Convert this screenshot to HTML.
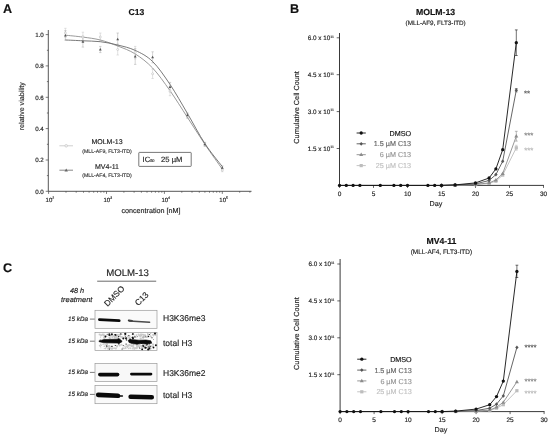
<!DOCTYPE html>
<html><head><meta charset="utf-8"><title>Figure</title>
<style>
html,body{margin:0;padding:0;background:#fff;}
body{width:550px;height:436px;overflow:hidden;}
svg{display:block;font-family:"Liberation Sans",sans-serif;text-rendering:geometricPrecision;}
text{stroke-width:0.15px;stroke-linejoin:round}
.b{font-weight:bold}
.i{font-style:italic}
.m{text-anchor:middle}
.e{text-anchor:end}
</style></head><body>
<svg width="550" height="436" viewBox="0 0 550 436">
<rect width="550" height="436" fill="#fff"/>

<g id="panelA">
<text x="3.0" y="12.8" font-size="12.6" class="b" fill="#111" stroke="#111" >A</text>
<text x="136.5" y="15.2" font-size="8.6" class="b m" fill="#111" stroke="#111" >C13</text>
<path d="M48.3 30V191.3H251.5" fill="none" stroke="#444" stroke-width="0.9"/>
<text x="43.8" y="193.5" font-size="6.2" class="e" fill="#222" stroke="#222" >0.0</text>
<text x="43.8" y="162.2" font-size="6.2" class="e" fill="#222" stroke="#222" >0.2</text>
<text x="43.8" y="130.8" font-size="6.2" class="e" fill="#222" stroke="#222" >0.4</text>
<text x="43.8" y="99.5" font-size="6.2" class="e" fill="#222" stroke="#222" >0.6</text>
<text x="43.8" y="68.1" font-size="6.2" class="e" fill="#222" stroke="#222" >0.8</text>
<text x="43.8" y="36.8" font-size="6.2" class="e" fill="#222" stroke="#222" >1.0</text>
<text x="45.6" y="201.9" font-size="6" fill="#222" stroke="#222">10<tspan dy="-2.5" font-size="3.5">2</tspan></text>
<text x="103.5" y="201.9" font-size="6" fill="#222" stroke="#222">10<tspan dy="-2.5" font-size="3.5">3</tspan></text>
<text x="161.4" y="201.9" font-size="6" fill="#222" stroke="#222">10<tspan dy="-2.5" font-size="3.5">4</tspan></text>
<text x="219.3" y="201.9" font-size="6" fill="#222" stroke="#222">10<tspan dy="-2.5" font-size="3.5">5</tspan></text>
<path d="M45.7 191.3H48.3M45.7 160.0H48.3M45.7 128.6H48.3M45.7 97.3H48.3M45.7 65.9H48.3M45.7 34.6H48.3M46.9 175.6H48.3M46.9 144.3H48.3M46.9 113.0H48.3M46.9 81.6H48.3M46.9 50.3H48.3M48.6 191.3v2.6M66.0 191.3v1.4M76.2 191.3v1.4M83.5 191.3v1.4M89.1 191.3v1.4M93.7 191.3v1.4M97.5 191.3v1.4M100.9 191.3v1.4M103.9 191.3v1.4M106.5 191.3v2.6M123.9 191.3v1.4M134.1 191.3v1.4M141.4 191.3v1.4M147.0 191.3v1.4M151.6 191.3v1.4M155.4 191.3v1.4M158.8 191.3v1.4M161.8 191.3v1.4M164.4 191.3v2.6M181.8 191.3v1.4M192.0 191.3v1.4M199.3 191.3v1.4M204.9 191.3v1.4M209.5 191.3v1.4M213.3 191.3v1.4M216.7 191.3v1.4M219.7 191.3v1.4M222.3 191.3v2.6M239.7 191.3v1.4M249.9 191.3v1.4" fill="none" stroke="#444" stroke-width="0.7"/>
<text x="151.0" y="213.2" font-size="7.2" class="m" fill="#222" stroke="#222" >concentration [nM]</text>
<text transform="translate(24,106.2) rotate(-90)" font-size="7.1" class="m" fill="#222" stroke="#222">relative viability</text>
<path d="M65.4 28.3V37.7M64.2 28.3h2.4M64.2 37.7h2.4M82.9 32.2V41.7M81.7 32.2h2.4M81.7 41.7h2.4M100.3 33.0V40.9M99.1 33.0h2.4M99.1 40.9h2.4M117.7 44.0V55.0M116.5 44.0h2.4M116.5 55.0h2.4M135.2 46.4V58.9M134.0 46.4h2.4M134.0 58.9h2.4M152.6 69.1V78.5M151.4 69.1h2.4M151.4 78.5h2.4M170.0 86.3V95.7M168.8 86.3h2.4M168.8 95.7h2.4M187.4 113.7V118.4M186.2 113.7h2.4M186.2 118.4h2.4M204.9 142.4V146.2M203.7 142.4h2.4M203.7 146.2h2.4M222.3 168.6V171.7M221.1 168.6h2.4M221.1 171.7h2.4" fill="none" stroke="#c4c4c4" stroke-width="0.5"/>
<path d="M65.4 30.7V40.1M64.2 30.7h2.4M64.2 40.1h2.4M82.9 36.2V47.1M81.7 36.2h2.4M81.7 47.1h2.4M100.3 46.4V52.6M99.1 46.4h2.4M99.1 52.6h2.4M117.7 33.0V45.6M116.5 33.0h2.4M116.5 45.6h2.4M135.2 48.7V64.4M134.0 48.7h2.4M134.0 64.4h2.4M152.6 51.8V62.8M151.4 51.8h2.4M151.4 62.8h2.4M170.0 82.4V91.8M168.8 82.4h2.4M168.8 91.8h2.4M187.4 113.0V117.7M186.2 113.0h2.4M186.2 117.7h2.4M204.9 142.4V146.2M203.7 142.4h2.4M203.7 146.2h2.4M222.3 165.9V169.7M221.1 165.9h2.4M221.1 169.7h2.4" fill="none" stroke="#a8a8a8" stroke-width="0.5"/>
<path d="M65.4 35.2C68.3 35.5 77.1 36.3 82.9 37.1C88.7 37.9 94.5 38.5 100.3 40.0C106.1 41.5 111.9 43.7 117.7 46.0C123.5 48.3 129.3 50.2 135.2 53.9C141.0 57.6 146.8 61.9 152.6 68.0C158.4 74.1 164.2 82.5 170.0 90.7C175.8 98.9 181.6 108.4 187.4 117.3C193.2 126.2 199.1 135.7 204.9 144.3C210.7 153.0 219.4 165.0 222.3 169.2" fill="none" stroke="#8e8e8e" stroke-width="0.9"/>
<path d="M65.4 40.0C68.3 40.1 77.1 40.5 82.9 40.8C88.7 41.1 94.5 41.0 100.3 41.7C106.1 42.4 111.9 43.5 117.7 45.0C123.5 46.5 129.3 47.6 135.2 50.4C141.0 53.1 146.8 55.8 152.6 61.5C158.4 67.2 164.2 75.8 170.0 84.4C175.8 93.1 181.6 103.5 187.4 113.4C193.2 123.3 199.1 134.7 204.9 143.6C210.7 152.5 219.4 162.8 222.3 166.6" fill="none" stroke="#6a6a6a" stroke-width="0.9"/>
<circle cx="65.4" cy="33.0" r="1" fill="#fff" stroke="#bdbdbd" stroke-width="0.6"/>
<circle cx="82.9" cy="37.0" r="1" fill="#fff" stroke="#bdbdbd" stroke-width="0.6"/>
<circle cx="100.3" cy="37.0" r="1" fill="#fff" stroke="#bdbdbd" stroke-width="0.6"/>
<circle cx="117.7" cy="49.5" r="1" fill="#fff" stroke="#bdbdbd" stroke-width="0.6"/>
<circle cx="135.2" cy="52.6" r="1" fill="#fff" stroke="#bdbdbd" stroke-width="0.6"/>
<circle cx="152.6" cy="73.8" r="1" fill="#fff" stroke="#bdbdbd" stroke-width="0.6"/>
<circle cx="170.0" cy="91.0" r="1" fill="#fff" stroke="#bdbdbd" stroke-width="0.6"/>
<circle cx="187.4" cy="116.1" r="1" fill="#fff" stroke="#bdbdbd" stroke-width="0.6"/>
<circle cx="204.9" cy="144.3" r="1" fill="#fff" stroke="#bdbdbd" stroke-width="0.6"/>
<circle cx="222.3" cy="170.1" r="1" fill="#fff" stroke="#bdbdbd" stroke-width="0.6"/>
<path d="M65.4 33.9l1.4 2.5h-2.8z" fill="#555"/>
<path d="M82.9 40.2l1.4 2.5h-2.8z" fill="#555"/>
<path d="M100.3 48.0l1.4 2.5h-2.8z" fill="#555"/>
<path d="M117.7 37.8l1.4 2.5h-2.8z" fill="#555"/>
<path d="M135.2 55.0l1.4 2.5h-2.8z" fill="#555"/>
<path d="M152.6 55.8l1.4 2.5h-2.8z" fill="#555"/>
<path d="M170.0 85.6l1.4 2.5h-2.8z" fill="#555"/>
<path d="M187.4 113.8l1.4 2.5h-2.8z" fill="#555"/>
<path d="M204.9 142.8l1.4 2.5h-2.8z" fill="#555"/>
<path d="M222.3 166.3l1.4 2.5h-2.8z" fill="#555"/>
<path d="M59.4 145.8H73" stroke="#c9c9c9" stroke-width="0.9"/><circle cx="66.2" cy="145.8" r="1.3" fill="#f4f4f4" stroke="#c4c4c4" stroke-width="0.7"/>
<path d="M59.4 170.2H73" stroke="#7a7a7a" stroke-width="0.9"/><path d="M66.2 168.4l1.7 3h-3.4z" fill="#666"/>
<text x="107.0" y="144.2" font-size="7.0" class="m" fill="#222" stroke="#222" >MOLM-13</text>
<text x="107.0" y="152.6" font-size="5.2" class="m" fill="#333" stroke="#333" >(MLL-AF9, FLT3-ITD)</text>
<text x="107.0" y="168.6" font-size="7.0" class="m" fill="#222" stroke="#222" >MV4-11</text>
<text x="107.0" y="177.0" font-size="5.2" class="m" fill="#333" stroke="#333" >(MLL-AF4, FLT3-ITD)</text>
<rect x="138.8" y="152.4" width="52.4" height="14" rx="0.6" fill="#fff" stroke="#555" stroke-width="0.8"/>
<text x="142.6" y="161.9" font-size="7.6" fill="#222" stroke="#222">IC<tspan font-size="3.9" dy="0.2">50</tspan><tspan dy="-0.2" dx="6.6">25 µM</tspan></text>
</g>
<text x="290.1" y="12.5" font-size="12.6" class="b" fill="#111" stroke="#111" >B</text>
<g id="panelB1">
<text x="435.6" y="15.0" font-size="8.7" class="b m" fill="#111" stroke="#111" >MOLM-13</text>
<text x="435.6" y="24.6" font-size="6.3" class="m" fill="#222" stroke="#222" >(MLL-AF9, FLT3-ITD)</text>
<path d="M339.5 33V185.4H543.9" fill="none" stroke="#222" stroke-width="0.9"/>
<text x="333.9" y="150.7" font-size="6.35" class="e" fill="#222" stroke="#222">1.5 x 10<tspan dy="-2.4" font-size="3.4">11</tspan></text>
<text x="333.9" y="113.8" font-size="6.35" class="e" fill="#222" stroke="#222">3.0 x 10<tspan dy="-2.4" font-size="3.4">11</tspan></text>
<text x="333.9" y="76.9" font-size="6.35" class="e" fill="#222" stroke="#222">4.5 x 10<tspan dy="-2.4" font-size="3.4">11</tspan></text>
<text x="333.9" y="40.0" font-size="6.35" class="e" fill="#222" stroke="#222">6.0 x 10<tspan dy="-2.4" font-size="3.4">11</tspan></text>
<text x="339.5" y="196.1" font-size="6.5" class="m" fill="#222" stroke="#222" >0</text>
<text x="373.5" y="196.1" font-size="6.5" class="m" fill="#222" stroke="#222" >5</text>
<text x="407.5" y="196.1" font-size="6.5" class="m" fill="#222" stroke="#222" >10</text>
<text x="441.5" y="196.1" font-size="6.5" class="m" fill="#222" stroke="#222" >15</text>
<text x="475.5" y="196.1" font-size="6.5" class="m" fill="#222" stroke="#222" >20</text>
<text x="509.5" y="196.1" font-size="6.5" class="m" fill="#222" stroke="#222" >25</text>
<text x="543.5" y="196.1" font-size="6.5" class="m" fill="#222" stroke="#222" >30</text>
<path d="M336.7 148.5H339.5M336.7 111.6H339.5M336.7 74.7H339.5M336.7 37.8H339.5M339.5 185.4v2.5M373.5 185.4v2.5M407.5 185.4v2.5M441.5 185.4v2.5M475.5 185.4v2.5M509.5 185.4v2.5M543.5 185.4v2.5" fill="none" stroke="#222" stroke-width="0.7"/>
<text x="436.0" y="206.0" font-size="7.2" class="m" fill="#222" stroke="#222" >Day</text>
<text transform="translate(298.5,107.4) rotate(-90)" font-size="7.3" class="m" fill="#222" stroke="#222">Cumulative Cell Count</text>
<path d="M516.3 145.3V150.2M514.9 145.3h2.8M514.9 150.2h2.8" fill="none" stroke="#bdbdbd" stroke-width="0.6"/>
<path d="M441.5 185.4 L455.1 185.2 L475.5 184.7 L489.1 183.4 L495.9 181.2 L502.7 175.1 L516.3 147.8" fill="none" stroke="#bdbdbd" stroke-width="0.9" stroke-linejoin="round"/>
<rect x="439.9" y="183.8" width="3.2" height="3.2" fill="#bdbdbd"/>
<rect x="453.5" y="183.6" width="3.2" height="3.2" fill="#bdbdbd"/>
<rect x="473.9" y="183.1" width="3.2" height="3.2" fill="#bdbdbd"/>
<rect x="487.5" y="181.8" width="3.2" height="3.2" fill="#bdbdbd"/>
<rect x="494.3" y="179.6" width="3.2" height="3.2" fill="#bdbdbd"/>
<rect x="501.1" y="173.5" width="3.2" height="3.2" fill="#bdbdbd"/>
<rect x="514.7" y="146.2" width="3.2" height="3.2" fill="#bdbdbd"/>
<path d="M516.3 131.3V141.1M514.9 131.3h2.8M514.9 141.1h2.8" fill="none" stroke="#8c8c8c" stroke-width="0.6"/>
<path d="M441.5 185.4 L455.1 185.2 L475.5 184.4 L489.1 182.9 L495.9 180.0 L502.7 173.6 L516.3 136.2" fill="none" stroke="#8c8c8c" stroke-width="0.9" stroke-linejoin="round"/>
<path d="M441.5 183.3l2 3.5h-4z" fill="#8c8c8c"/>
<path d="M455.1 183.1l2 3.5h-4z" fill="#8c8c8c"/>
<path d="M475.5 182.3l2 3.5h-4z" fill="#8c8c8c"/>
<path d="M489.1 180.8l2 3.5h-4z" fill="#8c8c8c"/>
<path d="M495.9 177.9l2 3.5h-4z" fill="#8c8c8c"/>
<path d="M502.7 171.5l2 3.5h-4z" fill="#8c8c8c"/>
<path d="M516.3 134.1l2 3.5h-4z" fill="#8c8c8c"/>
<path d="M516.3 88.5V91.9M514.9 88.5h2.8M514.9 91.9h2.8" fill="none" stroke="#555" stroke-width="0.6"/>
<path d="M441.5 185.4 L455.1 185.0 L475.5 183.9 L489.1 180.5 L495.9 174.6 L502.7 161.3 L516.3 90.2" fill="none" stroke="#555" stroke-width="0.9" stroke-linejoin="round"/>
<path d="M441.5 183.5l1.7 1.9l-1.7 1.9l-1.7-1.9z" fill="#555"/>
<path d="M455.1 183.1l1.7 1.9l-1.7 1.9l-1.7-1.9z" fill="#555"/>
<path d="M475.5 182.0l1.7 1.9l-1.7 1.9l-1.7-1.9z" fill="#555"/>
<path d="M489.1 178.6l1.7 1.9l-1.7 1.9l-1.7-1.9z" fill="#555"/>
<path d="M495.9 172.7l1.7 1.9l-1.7 1.9l-1.7-1.9z" fill="#555"/>
<path d="M502.7 159.4l1.7 1.9l-1.7 1.9l-1.7-1.9z" fill="#555"/>
<path d="M516.3 88.3l1.7 1.9l-1.7 1.9l-1.7-1.9z" fill="#555"/>
<path d="M516.3 29.9V55.5M514.9 29.9h2.8M514.9 55.5h2.8" fill="none" stroke="#111" stroke-width="0.6"/>
<path d="M339.5 185.4 L346.3 185.4 L353.1 185.4 L359.9 185.4 L380.3 185.4 L393.9 185.4 L400.7 185.4 L407.5 185.4 L427.9 185.4 L434.7 185.4 L441.5 185.4 L455.1 184.9 L475.5 182.9 L489.1 178.0 L495.9 168.9 L502.7 149.7 L516.3 42.7" fill="none" stroke="#111" stroke-width="0.9" stroke-linejoin="round"/>
<circle cx="339.5" cy="185.4" r="1.65" fill="#111"/>
<circle cx="346.3" cy="185.4" r="1.65" fill="#111"/>
<circle cx="353.1" cy="185.4" r="1.65" fill="#111"/>
<circle cx="359.9" cy="185.4" r="1.65" fill="#111"/>
<circle cx="380.3" cy="185.4" r="1.65" fill="#111"/>
<circle cx="393.9" cy="185.4" r="1.65" fill="#111"/>
<circle cx="400.7" cy="185.4" r="1.65" fill="#111"/>
<circle cx="407.5" cy="185.4" r="1.65" fill="#111"/>
<circle cx="427.9" cy="185.4" r="1.65" fill="#111"/>
<circle cx="434.7" cy="185.4" r="1.65" fill="#111"/>
<circle cx="441.5" cy="185.4" r="1.65" fill="#111"/>
<circle cx="455.1" cy="184.9" r="1.65" fill="#111"/>
<circle cx="475.5" cy="182.9" r="1.65" fill="#111"/>
<circle cx="489.1" cy="178.0" r="1.65" fill="#111"/>
<circle cx="495.9" cy="168.9" r="1.65" fill="#111"/>
<circle cx="502.7" cy="149.7" r="1.65" fill="#111"/>
<circle cx="516.3" cy="42.7" r="1.65" fill="#111"/>
<path d="M356.6 133.0h9.2" stroke="#111" stroke-width="0.9"/>
<circle cx="361.2" cy="133.0" r="1.65" fill="#111"/>
<text x="411.1" y="135.6" font-size="7.2" class="e" fill="#111" stroke="#111" >DMSO</text>
<path d="M356.6 143.8h9.2" stroke="#555" stroke-width="0.9"/>
<path d="M361.2 141.9l1.7 1.9l-1.7 1.9l-1.7-1.9z" fill="#555"/>
<text x="411.1" y="146.4" font-size="7.2" class="e" fill="#666" stroke="#666" >1.5 µM C13</text>
<path d="M356.6 154.7h9.2" stroke="#8c8c8c" stroke-width="0.9"/>
<path d="M361.2 152.6l2 3.5h-4z" fill="#8c8c8c"/>
<text x="411.1" y="157.3" font-size="7.2" class="e" fill="#959595" stroke="#959595" >6 µM C13</text>
<path d="M356.6 165.6h9.2" stroke="#bdbdbd" stroke-width="0.9"/>
<rect x="359.6" y="164.0" width="3.2" height="3.2" fill="#bdbdbd"/>
<text x="411.1" y="168.2" font-size="7.2" class="e" fill="#c2c2c2" stroke="#c2c2c2" >25 µM C13</text>
<text x="527.0" y="95.9" font-size="7.8" class="m" fill="#666" stroke="#666" >**</text>
<text x="528.8" y="137.7" font-size="7.8" class="m" fill="#8c8c8c" stroke="#8c8c8c" >***</text>
<text x="528.8" y="152.5" font-size="7.8" class="m" fill="#bdbdbd" stroke="#bdbdbd" >***</text>
</g>
<g id="panelB2">
<text x="441.4" y="244.4" font-size="8.7" class="b m" fill="#111" stroke="#111" >MV4-11</text>
<text x="441.4" y="253.8" font-size="6.45" class="m" fill="#222" stroke="#222" >(MLL-AF4, FLT3-ITD)</text>
<path d="M340.1 259V411.6H544.5" fill="none" stroke="#222" stroke-width="0.9"/>
<text x="334.5" y="376.9" font-size="6.35" class="e" fill="#222" stroke="#222">1.5 x 10<tspan dy="-2.4" font-size="3.4">11</tspan></text>
<text x="334.5" y="340.0" font-size="6.35" class="e" fill="#222" stroke="#222">3.0 x 10<tspan dy="-2.4" font-size="3.4">11</tspan></text>
<text x="334.5" y="303.1" font-size="6.35" class="e" fill="#222" stroke="#222">4.5 x 10<tspan dy="-2.4" font-size="3.4">11</tspan></text>
<text x="334.5" y="266.2" font-size="6.35" class="e" fill="#222" stroke="#222">6.0 x 10<tspan dy="-2.4" font-size="3.4">11</tspan></text>
<text x="340.1" y="422.3" font-size="6.5" class="m" fill="#222" stroke="#222" >0</text>
<text x="374.1" y="422.3" font-size="6.5" class="m" fill="#222" stroke="#222" >5</text>
<text x="408.1" y="422.3" font-size="6.5" class="m" fill="#222" stroke="#222" >10</text>
<text x="442.1" y="422.3" font-size="6.5" class="m" fill="#222" stroke="#222" >15</text>
<text x="476.1" y="422.3" font-size="6.5" class="m" fill="#222" stroke="#222" >20</text>
<text x="510.1" y="422.3" font-size="6.5" class="m" fill="#222" stroke="#222" >25</text>
<text x="544.1" y="422.3" font-size="6.5" class="m" fill="#222" stroke="#222" >30</text>
<path d="M337.3 374.7H340.1M337.3 337.8H340.1M337.3 300.9H340.1M337.3 264.0H340.1M340.1 411.6v2.5M374.1 411.6v2.5M408.1 411.6v2.5M442.1 411.6v2.5M476.1 411.6v2.5M510.1 411.6v2.5M544.1 411.6v2.5" fill="none" stroke="#222" stroke-width="0.7"/>
<text x="441.0" y="432.2" font-size="7.2" class="m" fill="#222" stroke="#222" >Day</text>
<text transform="translate(299.1,333.6) rotate(-90)" font-size="7.3" class="m" fill="#222" stroke="#222">Cumulative Cell Count</text>
<path d="M442.1 411.6 L455.7 411.5 L476.1 411.2 L489.7 410.6 L496.5 408.2 L503.3 404.7 L516.9 390.7" fill="none" stroke="#bdbdbd" stroke-width="0.9" stroke-linejoin="round"/>
<rect x="440.5" y="410.0" width="3.2" height="3.2" fill="#bdbdbd"/>
<rect x="454.1" y="409.9" width="3.2" height="3.2" fill="#bdbdbd"/>
<rect x="474.5" y="409.6" width="3.2" height="3.2" fill="#bdbdbd"/>
<rect x="488.1" y="409.0" width="3.2" height="3.2" fill="#bdbdbd"/>
<rect x="494.9" y="406.6" width="3.2" height="3.2" fill="#bdbdbd"/>
<rect x="501.7" y="403.1" width="3.2" height="3.2" fill="#bdbdbd"/>
<rect x="515.3" y="389.1" width="3.2" height="3.2" fill="#bdbdbd"/>
<path d="M442.1 411.6 L455.7 411.5 L476.1 411.1 L489.7 410.1 L496.5 407.2 L503.3 402.3 L516.9 381.8" fill="none" stroke="#8c8c8c" stroke-width="0.9" stroke-linejoin="round"/>
<path d="M442.1 409.5l2 3.5h-4z" fill="#8c8c8c"/>
<path d="M455.7 409.4l2 3.5h-4z" fill="#8c8c8c"/>
<path d="M476.1 409.0l2 3.5h-4z" fill="#8c8c8c"/>
<path d="M489.7 408.0l2 3.5h-4z" fill="#8c8c8c"/>
<path d="M496.5 405.1l2 3.5h-4z" fill="#8c8c8c"/>
<path d="M503.3 400.2l2 3.5h-4z" fill="#8c8c8c"/>
<path d="M516.9 379.7l2 3.5h-4z" fill="#8c8c8c"/>
<path d="M442.1 411.6 L455.7 411.4 L476.1 410.6 L489.7 408.2 L496.5 404.2 L503.3 395.9 L516.9 347.4" fill="none" stroke="#555" stroke-width="0.9" stroke-linejoin="round"/>
<path d="M442.1 409.7l1.7 1.9l-1.7 1.9l-1.7-1.9z" fill="#555"/>
<path d="M455.7 409.5l1.7 1.9l-1.7 1.9l-1.7-1.9z" fill="#555"/>
<path d="M476.1 408.7l1.7 1.9l-1.7 1.9l-1.7-1.9z" fill="#555"/>
<path d="M489.7 406.3l1.7 1.9l-1.7 1.9l-1.7-1.9z" fill="#555"/>
<path d="M496.5 402.3l1.7 1.9l-1.7 1.9l-1.7-1.9z" fill="#555"/>
<path d="M503.3 394.0l1.7 1.9l-1.7 1.9l-1.7-1.9z" fill="#555"/>
<path d="M516.9 345.5l1.7 1.9l-1.7 1.9l-1.7-1.9z" fill="#555"/>
<path d="M516.9 265.2V277.5M515.5 265.2h2.8M515.5 277.5h2.8" fill="none" stroke="#111" stroke-width="0.6"/>
<path d="M340.1 411.6 L346.9 411.6 L353.7 411.6 L360.5 411.6 L380.9 411.6 L394.5 411.6 L401.3 411.6 L408.1 411.6 L428.5 411.6 L435.3 411.6 L442.1 411.6 L455.7 411.1 L476.1 409.1 L489.7 404.7 L496.5 396.6 L503.3 381.1 L516.9 271.4" fill="none" stroke="#111" stroke-width="0.9" stroke-linejoin="round"/>
<circle cx="340.1" cy="411.6" r="1.65" fill="#111"/>
<circle cx="346.9" cy="411.6" r="1.65" fill="#111"/>
<circle cx="353.7" cy="411.6" r="1.65" fill="#111"/>
<circle cx="360.5" cy="411.6" r="1.65" fill="#111"/>
<circle cx="380.9" cy="411.6" r="1.65" fill="#111"/>
<circle cx="394.5" cy="411.6" r="1.65" fill="#111"/>
<circle cx="401.3" cy="411.6" r="1.65" fill="#111"/>
<circle cx="408.1" cy="411.6" r="1.65" fill="#111"/>
<circle cx="428.5" cy="411.6" r="1.65" fill="#111"/>
<circle cx="435.3" cy="411.6" r="1.65" fill="#111"/>
<circle cx="442.1" cy="411.6" r="1.65" fill="#111"/>
<circle cx="455.7" cy="411.1" r="1.65" fill="#111"/>
<circle cx="476.1" cy="409.1" r="1.65" fill="#111"/>
<circle cx="489.7" cy="404.7" r="1.65" fill="#111"/>
<circle cx="496.5" cy="396.6" r="1.65" fill="#111"/>
<circle cx="503.3" cy="381.1" r="1.65" fill="#111"/>
<circle cx="516.9" cy="271.4" r="1.65" fill="#111"/>
<path d="M357.2 359.2h9.2" stroke="#111" stroke-width="0.9"/>
<circle cx="361.8" cy="359.2" r="1.65" fill="#111"/>
<text x="411.7" y="361.8" font-size="7.2" class="e" fill="#111" stroke="#111" >DMSO</text>
<path d="M357.2 370.1h9.2" stroke="#555" stroke-width="0.9"/>
<path d="M361.8 368.2l1.7 1.9l-1.7 1.9l-1.7-1.9z" fill="#555"/>
<text x="411.7" y="372.7" font-size="7.2" class="e" fill="#666" stroke="#666" >1.5 µM C13</text>
<path d="M357.2 380.9h9.2" stroke="#8c8c8c" stroke-width="0.9"/>
<path d="M361.8 378.8l2 3.5h-4z" fill="#8c8c8c"/>
<text x="411.7" y="383.5" font-size="7.2" class="e" fill="#959595" stroke="#959595" >6 µM C13</text>
<path d="M357.2 391.8h9.2" stroke="#bdbdbd" stroke-width="0.9"/>
<rect x="360.2" y="390.2" width="3.2" height="3.2" fill="#bdbdbd"/>
<text x="411.7" y="394.4" font-size="7.2" class="e" fill="#c2c2c2" stroke="#c2c2c2" >25 µM C13</text>
<text x="530.6" y="350.1" font-size="7.8" class="m" fill="#666" stroke="#666" >****</text>
<text x="530.6" y="383.6" font-size="7.8" class="m" fill="#8c8c8c" stroke="#8c8c8c" >****</text>
<text x="530.6" y="395.6" font-size="7.8" class="m" fill="#bdbdbd" stroke="#bdbdbd" >****</text>
</g>
<g id="panelC">
<text x="2.9" y="272.1" font-size="12.6" class="b" fill="#111" stroke="#111" >C</text>
<text x="127.6" y="276.2" font-size="9.65" class="m" fill="#222" stroke="#222" >MOLM-13</text>
<path d="M97.2 281.2H156.2" stroke="#2a2a2a" stroke-width="0.7"/>
<text x="77.0" y="293.0" font-size="7.3" class="i m" fill="#222" stroke="#222" >48 h</text>
<text x="76.7" y="302.1" font-size="7.45" class="i m" fill="#222" stroke="#222" >treatment</text>
<text transform="translate(107.4,307) rotate(-45)" font-size="8.4" fill="#222" stroke="#222">DMSO</text>
<text transform="translate(138.2,306.2) rotate(-45)" font-size="8.4" fill="#222" stroke="#222">C13</text>
<rect x="95" y="310.3" width="62" height="18.0" fill="#fafafa" stroke="#939393" stroke-width="0.65"/>
<text x="88.0" y="321.0" font-size="6.3" class="i e" fill="#222" stroke="#222" >15 kDa</text>
<path d="M89.9 319.1H94.7" stroke="#444" stroke-width="0.7"/>
<text x="163.0" y="320.5" font-size="8.5" class="" fill="#222" stroke="#222" >H3K36me3</text>
<rect x="95" y="332.4" width="62" height="18.1" fill="#fdfdfd" stroke="#939393" stroke-width="0.65"/>
<text x="88.0" y="343.1" font-size="6.3" class="i e" fill="#222" stroke="#222" >15 kDa</text>
<path d="M89.9 341.2H94.7" stroke="#444" stroke-width="0.7"/>
<text x="163.0" y="345.7" font-size="8.5" class="" fill="#222" stroke="#222" >total H3</text>
<rect x="95" y="363.6" width="62" height="18.0" fill="#f8f8f8" stroke="#939393" stroke-width="0.65"/>
<text x="88.0" y="374.3" font-size="6.3" class="i e" fill="#222" stroke="#222" >15 kDa</text>
<path d="M89.9 372.4H94.7" stroke="#444" stroke-width="0.7"/>
<text x="163.0" y="375.5" font-size="8.5" class="" fill="#222" stroke="#222" >H3K36me2</text>
<rect x="95" y="385.6" width="62" height="18.1" fill="#fafafa" stroke="#939393" stroke-width="0.65"/>
<text x="88.0" y="396.3" font-size="6.3" class="i e" fill="#222" stroke="#222" >15 kDa</text>
<path d="M89.9 394.4H94.7" stroke="#444" stroke-width="0.7"/>
<text x="163.0" y="398.4" font-size="8.5" class="" fill="#222" stroke="#222" >total H3</text>
<path d="M99.4 319.6L119.2 320.6" stroke="#0a0a0a" stroke-width="2.8" stroke-linecap="round" opacity="1"/>
<path d="M128.8 320.4L132 321" stroke="#333" stroke-width="2" stroke-linecap="round"/>
<path d="M129.6 321L149.6 322.3" stroke="#4a4a4a" stroke-width="1.5" stroke-linecap="round" opacity="1"/>
<g fill="#959595" opacity="0.5"><circle cx="123.9" cy="348.5" r="0.8"/><circle cx="146.0" cy="347.9" r="0.9"/><circle cx="142.6" cy="334.6" r="0.8"/><circle cx="148.0" cy="346.9" r="1.1"/><circle cx="135.0" cy="336.9" r="1.0"/><circle cx="102.5" cy="334.4" r="1.0"/><circle cx="116.9" cy="336.8" r="0.9"/><circle cx="126.5" cy="346.3" r="0.7"/><circle cx="129.3" cy="344.6" r="0.7"/><circle cx="111.6" cy="335.5" r="0.7"/><circle cx="145.6" cy="335.9" r="0.6"/><circle cx="150.0" cy="345.9" r="0.8"/><circle cx="130.1" cy="347.3" r="0.6"/><circle cx="117.3" cy="338.4" r="0.6"/><circle cx="137.9" cy="346.3" r="0.6"/><circle cx="129.8" cy="336.2" r="0.8"/><circle cx="120.1" cy="335.9" r="0.7"/><circle cx="152.4" cy="337.7" r="0.6"/><circle cx="120.7" cy="338.0" r="0.5"/><circle cx="107.0" cy="344.2" r="1.0"/><circle cx="120.2" cy="334.5" r="0.5"/><circle cx="119.3" cy="344.8" r="1.0"/><circle cx="106.5" cy="347.1" r="1.0"/><circle cx="144.0" cy="335.3" r="0.9"/><circle cx="120.4" cy="336.3" r="0.6"/><circle cx="101.1" cy="345.3" r="0.7"/><circle cx="144.3" cy="336.8" r="1.1"/><circle cx="152.7" cy="334.8" r="0.7"/><circle cx="149.5" cy="344.3" r="0.7"/><circle cx="112.7" cy="334.4" r="0.6"/><circle cx="106.6" cy="336.2" r="0.9"/><circle cx="149.8" cy="345.8" r="1.1"/><circle cx="100.2" cy="346.4" r="0.7"/><circle cx="154.0" cy="334.5" r="1.0"/><circle cx="139.5" cy="347.8" r="0.7"/><circle cx="136.7" cy="348.2" r="1.1"/><circle cx="100.7" cy="344.3" r="0.7"/><circle cx="99.7" cy="334.5" r="1.1"/><circle cx="147.4" cy="346.0" r="0.8"/><circle cx="145.1" cy="334.6" r="0.7"/><circle cx="103.8" cy="334.3" r="0.8"/><circle cx="132.8" cy="338.3" r="0.7"/><circle cx="106.9" cy="346.6" r="0.9"/><circle cx="123.3" cy="345.7" r="0.6"/><circle cx="122.7" cy="337.7" r="0.7"/><circle cx="131.1" cy="344.8" r="0.7"/><circle cx="148.3" cy="344.5" r="1.0"/><circle cx="105.2" cy="348.5" r="0.7"/><circle cx="127.6" cy="347.5" r="0.7"/><circle cx="144.6" cy="347.0" r="0.8"/><circle cx="116.0" cy="337.7" r="0.7"/><circle cx="109.4" cy="337.6" r="1.0"/><circle cx="153.1" cy="344.7" r="1.1"/><circle cx="136.6" cy="335.1" r="0.9"/><circle cx="140.5" cy="336.6" r="0.7"/><circle cx="118.0" cy="337.3" r="0.7"/><circle cx="142.6" cy="344.6" r="0.6"/><circle cx="123.9" cy="348.4" r="0.8"/><circle cx="134.9" cy="348.0" r="0.8"/><circle cx="134.8" cy="335.1" r="0.6"/><circle cx="148.5" cy="348.7" r="0.7"/><circle cx="138.5" cy="334.3" r="0.8"/><circle cx="129.3" cy="337.6" r="0.6"/><circle cx="146.7" cy="344.4" r="0.9"/><circle cx="149.4" cy="348.8" r="1.1"/><circle cx="126.1" cy="338.4" r="0.8"/><circle cx="129.7" cy="337.9" r="0.8"/><circle cx="145.4" cy="345.6" r="1.1"/><circle cx="146.9" cy="336.9" r="1.1"/><circle cx="127.8" cy="336.7" r="0.8"/><circle cx="132.3" cy="348.7" r="0.8"/><circle cx="153.4" cy="334.7" r="0.5"/><circle cx="128.6" cy="348.6" r="0.7"/><circle cx="125.0" cy="346.2" r="0.8"/><circle cx="105.0" cy="344.3" r="0.6"/><circle cx="141.9" cy="334.3" r="0.5"/><circle cx="114.6" cy="345.3" r="0.6"/><circle cx="139.2" cy="346.5" r="0.9"/><circle cx="137.6" cy="344.3" r="1.0"/><circle cx="132.9" cy="336.6" r="0.8"/><circle cx="145.8" cy="336.9" r="1.0"/><circle cx="133.5" cy="345.0" r="1.0"/><circle cx="109.7" cy="337.6" r="0.6"/><circle cx="112.2" cy="337.4" r="0.8"/><circle cx="150.8" cy="336.6" r="0.7"/><circle cx="136.7" cy="345.1" r="1.0"/><circle cx="152.3" cy="346.5" r="0.8"/><circle cx="136.7" cy="335.0" r="0.5"/><circle cx="140.9" cy="348.4" r="0.6"/><circle cx="109.1" cy="348.1" r="1.1"/><circle cx="104.2" cy="348.6" r="0.5"/><circle cx="104.3" cy="346.2" r="0.8"/><circle cx="132.1" cy="334.3" r="0.6"/><circle cx="124.0" cy="337.5" r="0.9"/><circle cx="104.2" cy="337.7" r="1.0"/><circle cx="137.8" cy="347.1" r="0.8"/><circle cx="109.5" cy="345.8" r="0.7"/><circle cx="105.4" cy="344.9" r="0.6"/><circle cx="117.1" cy="345.9" r="1.0"/><circle cx="121.3" cy="344.5" r="0.7"/><circle cx="104.5" cy="338.1" r="0.6"/><circle cx="151.0" cy="345.8" r="0.8"/><circle cx="128.3" cy="335.9" r="0.9"/><circle cx="140.9" cy="338.5" r="0.9"/><circle cx="113.1" cy="336.0" r="0.9"/><circle cx="99.6" cy="345.5" r="0.8"/><circle cx="126.9" cy="338.5" r="0.9"/><circle cx="143.5" cy="334.5" r="0.7"/><circle cx="150.6" cy="348.7" r="0.8"/><circle cx="131.8" cy="346.5" r="0.8"/><circle cx="131.9" cy="345.5" r="0.8"/><circle cx="114.6" cy="337.4" r="1.0"/><circle cx="131.2" cy="346.1" r="0.5"/><circle cx="116.3" cy="346.9" r="0.5"/><circle cx="148.8" cy="336.1" r="0.5"/><circle cx="104.4" cy="337.8" r="1.1"/><circle cx="143.9" cy="344.7" r="0.8"/><circle cx="110.2" cy="334.4" r="0.7"/><circle cx="106.7" cy="347.0" r="0.7"/><circle cx="139.9" cy="344.8" r="0.9"/><circle cx="112.1" cy="348.3" r="0.7"/><circle cx="132.5" cy="337.4" r="0.9"/><circle cx="140.4" cy="335.0" r="1.0"/><circle cx="101.2" cy="345.4" r="0.5"/><circle cx="101.1" cy="335.2" r="1.0"/><circle cx="107.8" cy="348.7" r="0.8"/><circle cx="110.6" cy="335.7" r="1.0"/><circle cx="123.6" cy="337.8" r="0.8"/><circle cx="140.1" cy="335.9" r="0.9"/><circle cx="153.4" cy="335.6" r="0.8"/><circle cx="119.3" cy="334.6" r="0.8"/><circle cx="122.8" cy="348.0" r="0.7"/><circle cx="141.7" cy="334.5" r="0.9"/><circle cx="126.2" cy="337.6" r="0.6"/><circle cx="135.1" cy="348.4" r="0.9"/><circle cx="130.3" cy="348.5" r="0.8"/><circle cx="143.2" cy="345.7" r="1.1"/><circle cx="139.1" cy="344.6" r="0.5"/><circle cx="136.2" cy="347.9" r="1.0"/><circle cx="128.7" cy="337.9" r="0.6"/><circle cx="124.0" cy="338.0" r="0.8"/><circle cx="128.9" cy="348.6" r="0.5"/><circle cx="129.1" cy="337.7" r="0.7"/><circle cx="104.8" cy="335.6" r="0.6"/><circle cx="143.9" cy="347.5" r="1.0"/><circle cx="127.7" cy="346.0" r="1.0"/><circle cx="117.3" cy="334.8" r="0.9"/><circle cx="149.3" cy="348.0" r="1.0"/><circle cx="143.3" cy="337.9" r="0.8"/><circle cx="138.1" cy="346.1" r="1.0"/><circle cx="112.5" cy="334.9" r="0.7"/><circle cx="120.4" cy="336.5" r="0.8"/><circle cx="139.2" cy="335.5" r="1.0"/><circle cx="140.4" cy="334.3" r="0.7"/><circle cx="109.9" cy="346.9" r="0.9"/><circle cx="111.3" cy="335.0" r="1.0"/><circle cx="150.6" cy="348.5" r="1.0"/><circle cx="125.7" cy="336.0" r="0.8"/><circle cx="111.2" cy="348.6" r="1.1"/><circle cx="142.7" cy="337.6" r="0.9"/><circle cx="112.1" cy="346.4" r="0.8"/><circle cx="112.6" cy="348.2" r="0.6"/><circle cx="116.7" cy="335.3" r="0.9"/><circle cx="153.6" cy="335.4" r="0.8"/><circle cx="108.8" cy="335.1" r="1.0"/><circle cx="103.5" cy="335.4" r="1.0"/><circle cx="137.2" cy="347.6" r="0.5"/><circle cx="109.3" cy="347.3" r="0.6"/><circle cx="128.9" cy="344.9" r="0.7"/><circle cx="121.3" cy="336.6" r="0.7"/><circle cx="136.8" cy="346.0" r="0.9"/><circle cx="142.1" cy="346.2" r="0.9"/><circle cx="125.1" cy="335.5" r="1.0"/><circle cx="145.4" cy="337.4" r="0.7"/><circle cx="119.7" cy="345.6" r="1.0"/><circle cx="129.6" cy="345.1" r="0.9"/><circle cx="117.1" cy="346.8" r="0.8"/><circle cx="120.0" cy="334.6" r="0.9"/><circle cx="138.0" cy="346.1" r="0.9"/><circle cx="104.0" cy="335.2" r="0.8"/><circle cx="141.4" cy="335.7" r="0.9"/><circle cx="141.2" cy="346.0" r="1.1"/><circle cx="133.3" cy="347.0" r="1.1"/><circle cx="142.4" cy="337.1" r="0.7"/><circle cx="109.4" cy="346.2" r="0.6"/><circle cx="117.3" cy="335.5" r="0.7"/><circle cx="128.6" cy="335.5" r="0.8"/><circle cx="109.9" cy="338.3" r="0.8"/><circle cx="100.5" cy="337.1" r="0.6"/><circle cx="130.7" cy="345.7" r="0.7"/><circle cx="147.6" cy="336.2" r="1.0"/><circle cx="128.9" cy="346.8" r="0.6"/><circle cx="140.0" cy="338.1" r="0.6"/><circle cx="144.4" cy="335.5" r="1.0"/><circle cx="119.0" cy="334.9" r="0.8"/><circle cx="121.2" cy="337.6" r="0.7"/><circle cx="135.9" cy="337.4" r="0.6"/><circle cx="121.7" cy="334.3" r="0.8"/><circle cx="108.6" cy="345.4" r="0.5"/><circle cx="142.1" cy="347.8" r="1.1"/><circle cx="132.0" cy="346.1" r="1.0"/><circle cx="125.7" cy="348.1" r="1.0"/><circle cx="105.5" cy="348.5" r="0.8"/><circle cx="122.8" cy="338.2" r="0.7"/><circle cx="132.9" cy="345.9" r="1.0"/><circle cx="115.8" cy="336.8" r="1.0"/><circle cx="112.3" cy="348.7" r="0.9"/><circle cx="127.9" cy="345.6" r="1.1"/><circle cx="147.4" cy="347.6" r="1.0"/><circle cx="122.2" cy="345.2" r="0.8"/><circle cx="148.7" cy="334.6" r="1.0"/><circle cx="130.7" cy="345.6" r="0.5"/><circle cx="108.5" cy="346.3" r="0.6"/><circle cx="137.1" cy="345.6" r="1.0"/><circle cx="115.9" cy="348.5" r="1.0"/><circle cx="110.1" cy="338.0" r="0.6"/><circle cx="145.1" cy="335.8" r="0.9"/><circle cx="137.4" cy="336.7" r="0.6"/><circle cx="147.4" cy="344.7" r="1.1"/><circle cx="114.1" cy="348.2" r="0.9"/><circle cx="150.6" cy="336.2" r="1.0"/><circle cx="105.6" cy="337.2" r="0.8"/><circle cx="115.3" cy="335.4" r="0.9"/><circle cx="111.6" cy="335.5" r="0.7"/><circle cx="134.2" cy="348.7" r="1.1"/><circle cx="103.1" cy="344.2" r="0.8"/><circle cx="122.3" cy="336.7" r="0.6"/><circle cx="114.4" cy="336.6" r="1.1"/><circle cx="100.8" cy="347.7" r="0.5"/><circle cx="148.0" cy="344.5" r="0.7"/></g>
<path d="M98.9 340.9L104 339.5L117.4 339.2L118.6 338.2L122.2 341.2L118.6 344.1L117.4 343.1L104 342.8L99.2 341.7z" fill="#0a0a0a" stroke="#0a0a0a" stroke-width="0.6" stroke-linejoin="round"/>
<path d="M128.2 340.2L132 339.6L139 340.2L146 340L150.8 340.8L151.8 343.2L146 344L141 343.4L137 344.2L132 343.6L129 342.4z" fill="#0a0a0a" stroke="#0a0a0a" stroke-width="0.6" stroke-linejoin="round"/>
<g fill="#111"><circle cx="125.3" cy="333.9" r="1.0"/><circle cx="147.0" cy="344.5" r="0.7"/><circle cx="106.8" cy="346.0" r="0.7"/><circle cx="132.5" cy="337.6" r="0.9"/><circle cx="147.6" cy="333.9" r="0.4"/><circle cx="110.6" cy="335.8" r="0.3"/><circle cx="143.1" cy="345.8" r="0.9"/><circle cx="145.5" cy="336.2" r="0.4"/><circle cx="126.1" cy="344.1" r="0.6"/><circle cx="109.3" cy="349.1" r="0.6"/><circle cx="141.6" cy="343.1" r="0.9"/><circle cx="123.6" cy="345.5" r="0.4"/><circle cx="120.9" cy="341.9" r="0.7"/><circle cx="114.2" cy="340.3" r="0.3"/><circle cx="133.0" cy="338.2" r="1.0"/><circle cx="132.9" cy="334.0" r="0.9"/><circle cx="155.9" cy="345.3" r="1.0"/><circle cx="149.3" cy="348.4" r="1.0"/><circle cx="143.1" cy="336.9" r="0.4"/><circle cx="143.8" cy="346.4" r="0.6"/><circle cx="148.0" cy="336.7" r="0.3"/><circle cx="109.4" cy="335.1" r="0.9"/><circle cx="139.7" cy="348.1" r="0.5"/><circle cx="125.6" cy="336.4" r="0.4"/><circle cx="128.9" cy="335.6" r="0.5"/><circle cx="149.0" cy="346.9" r="0.6"/><circle cx="109.3" cy="334.1" r="0.9"/><circle cx="125.3" cy="333.6" r="0.9"/><circle cx="153.5" cy="347.5" r="0.9"/><circle cx="111.9" cy="346.4" r="0.6"/><circle cx="126.1" cy="337.9" r="0.6"/><circle cx="150.7" cy="346.4" r="0.5"/><circle cx="100.2" cy="340.0" r="0.6"/><circle cx="149.4" cy="334.6" r="0.5"/><circle cx="149.7" cy="342.6" r="0.9"/><circle cx="149.4" cy="343.8" r="0.5"/><circle cx="153.5" cy="339.3" r="0.4"/><circle cx="146.0" cy="347.7" r="0.6"/><circle cx="105.4" cy="336.5" r="0.9"/><circle cx="155.0" cy="333.5" r="1.0"/><circle cx="130.1" cy="339.4" r="0.9"/><circle cx="145.3" cy="347.7" r="1.0"/><circle cx="145.9" cy="342.6" r="0.9"/><circle cx="151.9" cy="337.7" r="0.5"/><circle cx="155.5" cy="334.2" r="0.3"/><circle cx="148.5" cy="336.5" r="0.7"/><circle cx="155.8" cy="335.3" r="0.3"/><circle cx="146.2" cy="347.3" r="0.3"/><circle cx="142.2" cy="349.3" r="0.9"/><circle cx="150.0" cy="347.7" r="0.4"/><circle cx="111.9" cy="334.2" r="1.0"/><circle cx="114.9" cy="334.7" r="0.6"/><circle cx="120.8" cy="333.9" r="0.7"/><circle cx="135.7" cy="343.5" r="0.5"/><circle cx="148.1" cy="349.5" r="1.0"/><circle cx="126.0" cy="338.4" r="0.9"/><circle cx="142.3" cy="349.4" r="0.6"/><circle cx="150.8" cy="333.8" r="0.4"/><circle cx="123.3" cy="338.5" r="0.9"/><circle cx="115.6" cy="334.9" r="0.9"/><circle cx="107.2" cy="334.2" r="0.5"/><circle cx="137.1" cy="336.3" r="0.4"/><circle cx="118.7" cy="336.4" r="0.6"/><circle cx="126.5" cy="339.9" r="0.7"/><circle cx="146.6" cy="345.7" r="0.4"/><circle cx="115.6" cy="345.6" r="0.5"/><circle cx="122.1" cy="349.0" r="0.6"/><circle cx="149.1" cy="346.0" r="0.3"/><circle cx="134.9" cy="336.8" r="0.6"/><circle cx="147.6" cy="343.6" r="0.7"/></g>
<path d="M99.8 374.6L117.6 374.6" stroke="#0a0a0a" stroke-width="3.6" stroke-linecap="round" opacity="1"/>
<path d="M131.4 374.1L151 374.1" stroke="#0a0a0a" stroke-width="2.7" stroke-linecap="round" opacity="1"/>
<path d="M98.2 394.9L118 395.79999999999995" stroke="#0a0a0a" stroke-width="4.6" stroke-linecap="round" opacity="1"/>
<path d="M118 396h4.4" stroke="#0a0a0a" stroke-width="1.5" stroke-linecap="round"/>
<path d="M130.6 396.7L151.8 397.2" stroke="#0a0a0a" stroke-width="4.5" stroke-linecap="round" opacity="1"/>
</g>
</svg></body></html>
